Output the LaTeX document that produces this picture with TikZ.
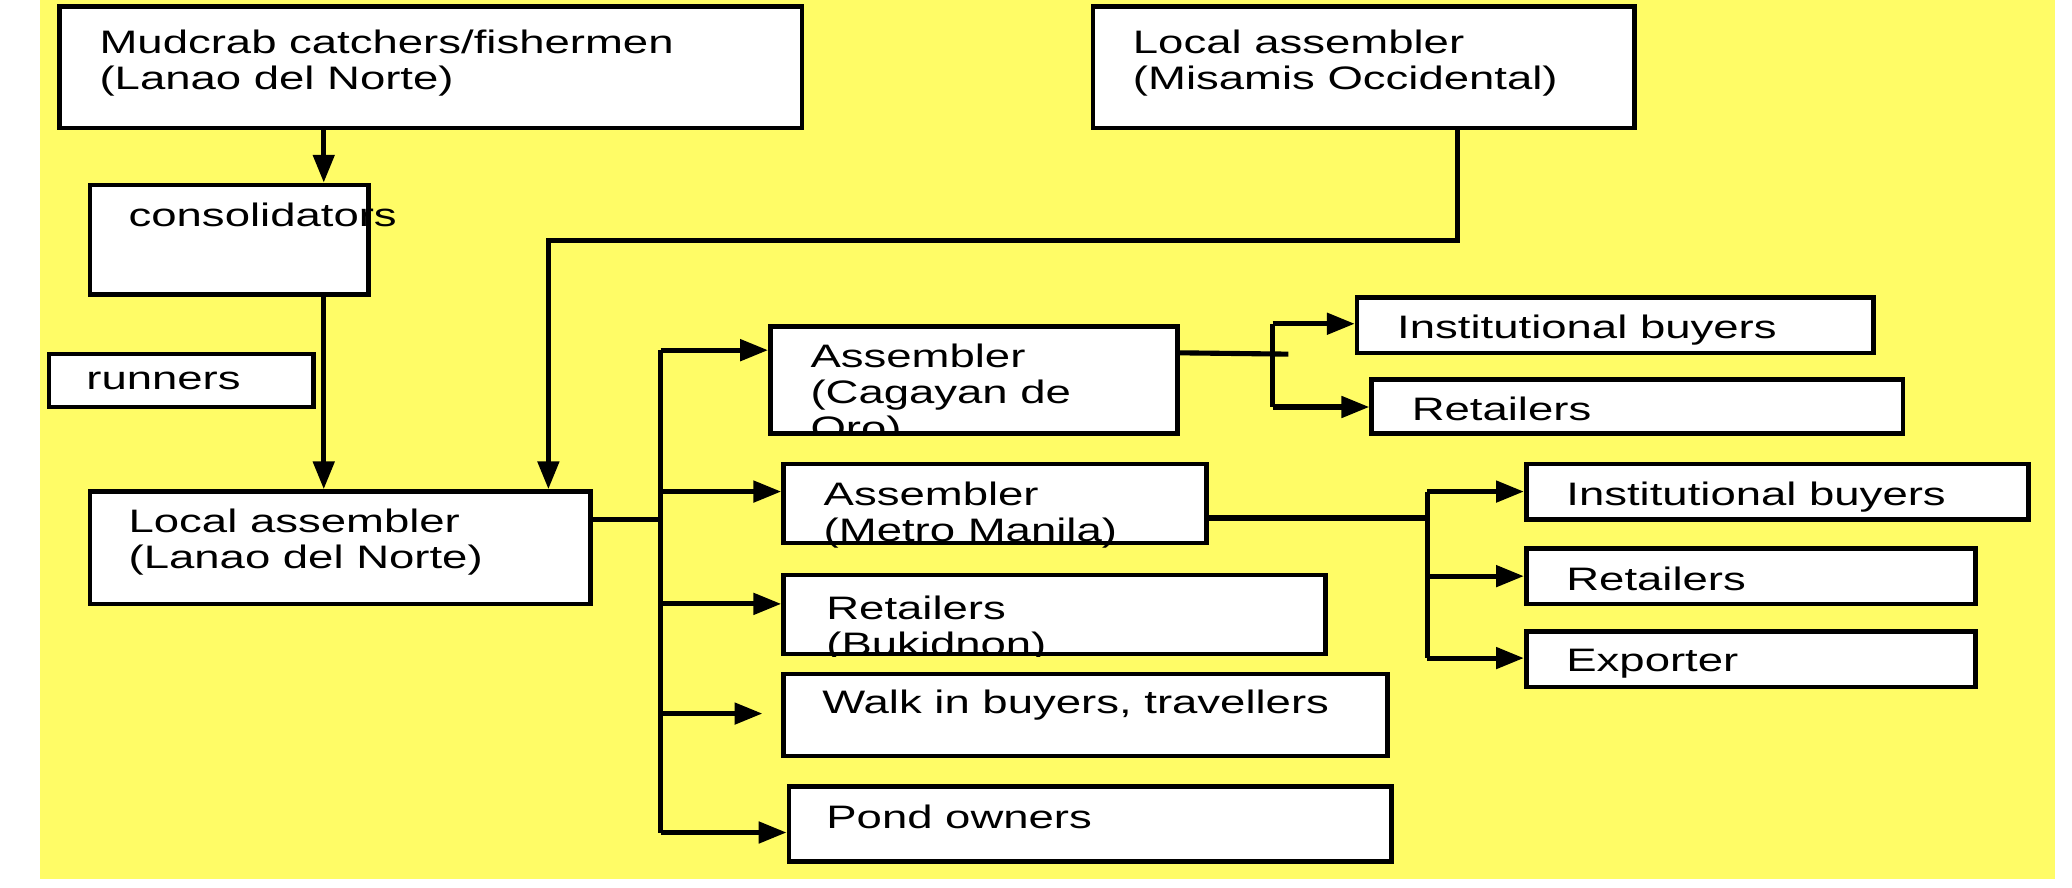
\documentclass[tikz,border=0pt]{standalone}
\usepackage{fontspec}
\setmainfont{Liberation Sans}[FakeStretch=1.4]
\usetikzlibrary{fit,arrows.meta}
\begin{document}
\begin{tikzpicture}[x=0.02cm,y=-0.02cm,
  box/.style={draw,line width=2pt,fill=white,inner sep=0pt},
  txt/.style={anchor=north west,align=left,inner sep=0pt,font=\fontsize{14}{15.5}\selectfont},
  ln/.style={line width=2.2pt},
  arr/.style={line width=2.2pt,-{Triangle[length=12pt,width=9pt]}}]
\useasboundingbox (0,0) rectangle (1568,672);
\fill[fill={rgb,255:red,255;green,252;blue,102}] (30,0) rectangle (1555,665);
% boxes
\node[box,fit={(45,5) (607,97)}] (mud) {};
\node[box,fit={(827,5) (1237,97)}] (mis) {};
\node[box,fit={(68,140) (279,223)}] (cons) {};
\node[box,fit={(37,268) (237,308)}] (run) {};
\node[box,fit={(68,372) (447,457)}] (lan) {};
\node[box,fit={(583,247) (891,328)}] (cdo) {};
\node[box,fit={(1027,225) (1418,267)}] (ib1) {};
\node[box,fit={(1038,287) (1440,328)}] (ret1) {};
\node[box,fit={(593,351) (913,411)}] (mm) {};
\node[box,fit={(593,435) (1003,495)}] (buk) {};
\node[box,fit={(593,510) (1050,572)}] (walk) {};
\node[box,fit={(597,595) (1053,652)}] (pond) {};
\node[box,fit={(1155,351) (1535,393)}] (ib2) {};
\node[box,fit={(1155,415) (1495,457)}] (ret2) {};
\node[box,fit={(1155,478) (1495,520)}] (exp) {};
% texts
\node[txt] (t1) at (75,22) {Mudcrab catchers/fishermen\\(Lanao del Norte)};
\node[txt] (t2) at (857,22) {Local assembler\\(Misamis Occidental)};
\node[txt] (t3) at (97,153) {consolidators};
\node[txt] (t4) at (65,281) {runners};
\node[txt] (t5) at (97,385) {Local assembler\\(Lanao del Norte)};
\begin{scope}
\clip (cdo.south west) rectangle (cdo.north east);
\node[txt] (t6) at (613,260) {Assembler\\(Cagayan de\\Oro)};
\end{scope}
\node[txt] (t7) at (1057,238) {Institutional buyers};
\node[txt] (t8) at (1068,300) {Retailers};
\node[txt] (t9) at (623,364) {Assembler\\(Metro Manila)};
\begin{scope}
\clip (buk.south west) rectangle (buk.north east);
\node[txt] (t10) at (625,451) {Retailers\\(Bukidnon)};
\end{scope}
\node[txt] (t11) at (622,522) {Walk in buyers, travellers};
\node[txt] (t12) at (625,609) {Pond owners};
\node[txt] (t13) at (1185,364) {Institutional buyers};
\node[txt] (t14) at (1185,429) {Retailers};
\node[txt] (t15) at (1185,491) {Exporter};
% connectors
\draw[arr] (mud.south -| 245,0) -- (cons.north -| 245,0);
\draw[arr] (cons.south -| 245,0) -- (lan.north -| 245,0);
\coordinate (m1) at (1103,182);
\coordinate (m2) at (415,182);
\draw[arr] (mis.south -| m1) -- (m1) -- (m2) -- (lan.north -| m2);
\coordinate (bt) at (500,265);
\coordinate (bb) at (500,630);
\draw[ln] (lan.east |- 0,393) -- (500,393);
\draw[ln] (bt) -- (bb);
\coordinate (b2) at (500,372);
\coordinate (b3) at (500,457);
\coordinate (b4) at (500,540);
\draw[arr] (bt) -- (bt -| cdo.west);
\draw[arr] (b2) -- (b2 -| mm.west);
\draw[arr] (b3) -- (b3 -| buk.west);
\draw[arr] (b4) -- (577,540);
\draw[arr] (bb) -- (bb -| pond.west);
\coordinate (c1) at (963,245);
\coordinate (c2) at (963,308);
\draw[ln] (cdo.east |- 0,267) -- (975,268);
\draw[ln] (c1) -- (c2);
\draw[arr] (c1) -- (c1 -| ib1.west);
\draw[arr] (c2) -- (c2 -| ret1.west);
\coordinate (d1) at (1080,372);
\coordinate (d2) at (1080,436);
\coordinate (d3) at (1080,498);
\draw[ln] (mm.east |- 0,392) -- (1080,392);
\draw[ln] (d1) -- (d3);
\draw[arr] (d1) -- (d1 -| ib2.west);
\draw[arr] (d2) -- (d2 -| ret2.west);
\draw[arr] (d3) -- (d3 -| exp.west);
\end{tikzpicture}
\end{document}
